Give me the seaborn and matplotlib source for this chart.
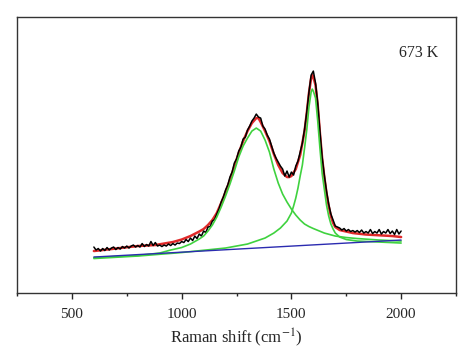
import numpy as np
import pandas as pd
import matplotlib
matplotlib.use("Agg")
import matplotlib.pyplot as plt
import seaborn as sns
from matplotlib.ticker import MultipleLocator

# measured spectrum (black), sampled every 10 cm-1 from 600 to 2000
raw_shift = np.arange(600, 2001, 10)
raw_int = [
    46, 43, 44.5, 42, 44.5, 42.5, 45.5, 43, 45, 46,
    43.5, 45.5, 44, 46.5, 45, 47, 45, 47, 48, 46,
    47.5, 46, 49.5, 46.5, 48.5, 47, 51.5, 47.5, 50.5, 47,
    48, 46.5, 48, 47, 49, 47.5, 49.5, 48, 50, 49.5,
    51.5, 50.5, 53.5, 51.5, 55, 52.5, 57, 54.5, 59, 57,
    62, 60.5, 66, 66.5, 72, 73.5, 79, 84, 91, 96,
    103, 108, 116, 121, 130, 134, 142, 146, 154, 156,
    163, 167, 172, 175, 179, 176, 175, 167, 164, 158,
    154, 147, 140, 135, 131, 127, 124, 117, 122, 116,
    121, 118, 127, 132, 141, 150, 164, 181, 201, 218,
    222, 210, 190, 162, 136, 118, 102, 89, 79, 73,
    67, 66, 65, 63, 64.5, 62, 63.5, 61.5, 62.5, 61,
    62.5, 60.5, 63, 60, 61.5, 60, 63.5, 59.5, 61.5, 60,
    63.5, 59, 61.5, 60, 63.5, 59.5, 62, 58.5, 63.5, 59,
    62,
]

# cumulative fit (red)
fit_shift = [600, 640, 680, 720, 760, 800, 840, 880, 920, 960,
             1000, 1040, 1080, 1100, 1120, 1140, 1160, 1180, 1200, 1220,
             1240, 1260, 1280, 1300, 1320, 1340, 1350, 1360, 1380, 1400,
             1420, 1440, 1460, 1480, 1490, 1500, 1520, 1540, 1560, 1570,
             1580, 1590, 1595, 1600, 1610, 1620, 1630, 1640, 1650, 1660,
             1670, 1680, 1690, 1700, 1720, 1740, 1760, 1780, 1800, 1840,
             1880, 1920, 1960, 2000]
fit_int = [42, 43, 44, 45, 46, 47, 47.5, 48, 49.5, 51,
           53.5, 57, 61.5, 64, 68, 73, 80, 90, 101, 113,
           127, 140, 152, 162, 170, 175, 175, 171, 162, 152,
           139, 128, 120, 116, 116, 117, 124, 138, 162, 180,
           200, 215, 218, 216, 208, 188, 160, 135, 116, 100,
           87, 77, 70, 66, 63, 62, 61, 60, 59.5, 58.5,
           58, 57.5, 57, 56]

# D band component (green)
d_shift = [600, 700, 800, 900, 950, 1000, 1040, 1080, 1100, 1120,
           1140, 1160, 1180, 1200, 1220, 1240, 1260, 1280, 1300, 1320,
           1340, 1360, 1380, 1400, 1420, 1440, 1460, 1480, 1500, 1520,
           1540, 1560, 1580, 1600, 1650, 1700, 1750, 1800, 1900, 2000]
d_int = [35.5, 36.5, 37.5, 40, 43, 45.5, 49, 54, 57, 62,
         68, 76, 86, 97, 109, 122, 136, 147, 155, 162,
         165, 162, 153, 141, 124, 110, 99, 91, 84, 78,
         73, 69, 66.5, 64.5, 60, 57, 55.5, 54.5, 53, 52]

# G band component (green)
g_shift = [600, 800, 1000, 1200, 1300, 1380, 1420, 1450, 1480, 1500,
           1510, 1520, 1530, 1540, 1550, 1560, 1570, 1580, 1590, 1595,
           1600, 1610, 1620, 1630, 1640, 1650, 1660, 1670, 1680, 1690,
           1700, 1720, 1750, 1800, 1900, 2000]
g_int = [34.5, 37, 40.5, 45, 49, 55, 60, 65, 72, 80,
         87, 95, 105, 117, 128, 145, 163, 186, 201, 204,
         202, 195, 172, 145, 120, 104, 88, 77, 69, 64,
         60, 56, 53.5, 52, 51, 50]

# linear background (blue)
bg_shift = [600, 2000]
bg_int = [36, 53]

sns.set_style("white")
plt.rcParams["font.family"] = ["Liberation Serif", "DejaVu Serif"]
plt.rcParams["mathtext.fontset"] = "stix"

fig = plt.figure(figsize=(4.74, 3.64), dpi=100)
ax = fig.add_axes([0.036, 0.195, 0.926, 0.758])

sns.lineplot(x=fit_shift, y=fit_int, color="#e02a2a", lw=1.8, sort=False, ax=ax)
sns.lineplot(x=raw_shift, y=raw_int, color="black", lw=1.1, sort=False, ax=ax)
sns.lineplot(x=d_shift, y=d_int, color="#3fd23f", lw=1.2, sort=False, ax=ax)
sns.lineplot(x=g_shift, y=g_int, color="#3fd23f", lw=1.2, sort=False, ax=ax)
sns.lineplot(x=bg_shift, y=bg_int, color="#2b2bb0", lw=1.0, sort=False, ax=ax)

ax.set_xlim(250, 2250)
ax.set_ylim(0, 276)
ax.xaxis.set_major_locator(MultipleLocator(500))
ax.xaxis.set_minor_locator(MultipleLocator(250))
ax.tick_params(axis="x", which="major", direction="out", length=4, width=1,
               labelsize=11, pad=7, bottom=True)
ax.tick_params(axis="x", which="minor", direction="out", length=2.5, width=1,
               bottom=True)
ax.set_yticks([])
ax.set_ylabel("")
for sp in ax.spines.values():
    sp.set_color("#333333")
    sp.set_linewidth(1.0)

ax.set_xlabel(r"Raman shift (cm$^{-1}$)", fontsize=12, labelpad=4)
ax.text(2080, 240, "673 K", fontsize=11.5, ha="center", va="center")

fig.savefig("out.png", dpi=100)
